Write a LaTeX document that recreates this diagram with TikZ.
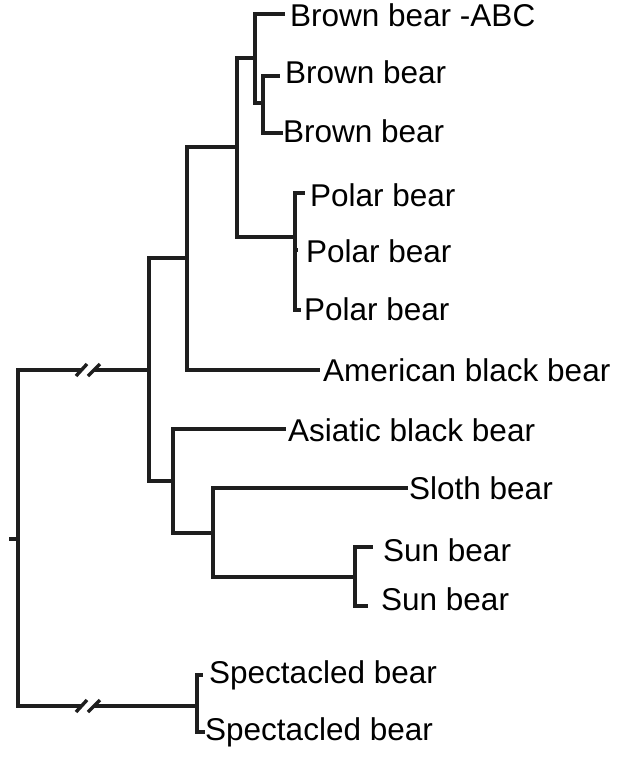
\documentclass[tikz,border=0pt]{standalone}
\usepackage{fontspec}
\setmainfont{Liberation Sans}
\definecolor{treeline}{HTML}{1E1E1E}
\begin{document}
\begin{tikzpicture}[x=1bp,y=-1bp,
  branch/.style={draw=treeline,line width=3.4bp},
  brk/.style={draw=treeline,line width=3.4bp},
  leaf/.style={anchor=base west,inner sep=0pt,font=\fontsize{31.5bp}{36bp}\selectfont,text=black}]
\useasboundingbox[fill=white] (0,0) rectangle (620,757);
% internal nodes
\coordinate (r) at (18,539);
\coordinate (rt) at (9,539);
\coordinate (a1) at (81,370);
\coordinate (a2) at (94,370);
\coordinate (b1) at (81,706);
\coordinate (b2) at (94,706);
\coordinate (A) at (149,370);
\coordinate (Sp) at (197,706);
\coordinate (B) at (187,258);
\coordinate (C) at (173,481);
\coordinate (D) at (237,147);
\coordinate (E) at (255,58);
\coordinate (F) at (263,103);
\coordinate (P) at (295,237);
\coordinate (G) at (213,533);
\coordinate (S) at (355,577);
% leaf tips
\coordinate (t1) at (285,14);
\coordinate (t2) at (280,76);
\coordinate (t3) at (283,133);
\coordinate (t4) at (305,193);
\coordinate (t5) at (298,250);
\coordinate (t6) at (301,310);
\coordinate (t7) at (320,370);
\coordinate (t8) at (286,429);
\coordinate (t9) at (408,488);
\coordinate (t10) at (373,547);
\coordinate (t11) at (368,606);
\coordinate (t12) at (203,675);
\coordinate (t13) at (205,732);
% labels
\node[leaf] (n1) at (290,27) {Brown bear -ABC};
\node[leaf] (n2) at (285,83) {Brown bear};
\node[leaf] (n3) at (283,142) {Brown bear};
\node[leaf] (n4) at (310,206) {Polar bear};
\node[leaf] (n5) at (306,262) {Polar bear};
\node[leaf] (n6) at (304,320) {Polar bear};
\node[leaf] (n7) at (323,381) {American black bear};
\node[leaf] (n8) at (288,441) {Asiatic black bear};
\node[leaf] (n9) at (409,499) {Sloth bear};
\node[leaf] (n10) at (383,561) {Sun bear};
\node[leaf] (n11) at (381,610) {Sun bear};
\node[leaf] (n12) at (209,683) {Spectacled bear};
\node[leaf] (n13) at (205,740) {Spectacled bear};
% branches
\draw[branch] (rt) -- (r);
\draw[branch] (r) |- (a1);
\draw[branch] (a2) -- (A);
\draw[branch] (r) |- (b1);
\draw[branch] (b2) -- (Sp);
\draw[branch] (A) |- (B);
\draw[branch] (A) |- (C);
\draw[branch] (B) |- (D);
\draw[branch] (B) |- (t7);
\draw[branch] (D) |- (E);
\draw[branch] (D) |- (P);
\draw[branch] (E) |- (t1);
\draw[branch] (E) |- (F);
\draw[branch] (F) |- (t2);
\draw[branch] (F) |- (t3);
\draw[branch] (P) |- (t4);
\draw[branch] (P) |- (t5);
\draw[branch] (P) |- (t6);
\draw[branch] (C) |- (t8);
\draw[branch] (C) |- (G);
\draw[branch] (G) |- (t9);
\draw[branch] (G) |- (S);
\draw[branch] (S) |- (t10);
\draw[branch] (S) |- (t11);
\draw[branch] (Sp) |- (t12);
\draw[branch] (Sp) |- (t13);
% break marks
\draw[brk] ([shift={(-5,6)}]a1) -- ([shift={(6,-6)}]a1);
\draw[brk] ([shift={(-6,6)}]a2) -- ([shift={(6,-6)}]a2);
\draw[brk] ([shift={(-5,6)}]b1) -- ([shift={(6,-6)}]b1);
\draw[brk] ([shift={(-6,6)}]b2) -- ([shift={(6,-6)}]b2);
\end{tikzpicture}
\end{document}
